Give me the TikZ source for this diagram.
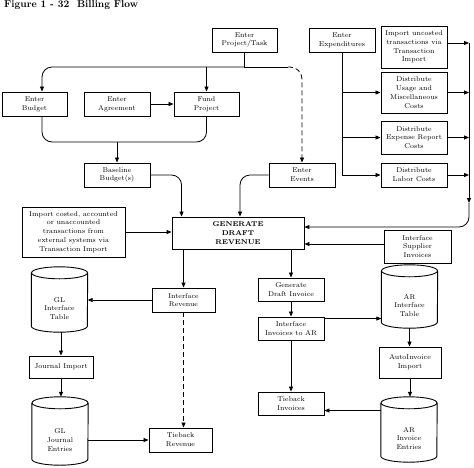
\documentclass[tikz,border=0pt]{standalone}
\usetikzlibrary{arrows.meta}
\tikzset{
    proc/.style = {draw, line width = 0.9pt, align = center, inner sep = 1pt, minimum width = 66pt, minimum height = 24pt, font = \fontsize{7}{8.8}\selectfont},
    db/.style = {inner sep = 0pt, minimum width = 56pt},
    dbtext/.style = {align = center, inner sep = 0pt, font = \fontsize{7}{8.8}\selectfont},
    link/.style = {line width = 0.8pt},
    flow/.style = {link, -{Triangle[length = 5pt, width = 4pt]}},
    dashflow/.style = {flow, dash pattern = on 5pt off 3pt},
}
% cylinder round a db node
\newcommand{\dbdraw}[1]{
    \draw[line width = 0.9pt] ([yshift = -6pt]#1.north west) -- ([yshift = 6pt]#1.south west) arc[start angle = 180, end angle = 360, x radius = 28pt, y radius = 6pt] -- ([yshift = -6pt]#1.north east);
    \draw[line width = 0.9pt] ([yshift = -6pt]#1.north) ellipse[x radius = 28pt, y radius = 6pt];
}
\begin{document}
\begin{tikzpicture}[x = 1pt, y = -1pt]
            \useasboundingbox (0, 0) rectangle (474, 467);
            \node[anchor = west, inner sep = 0pt, font = \bfseries\fontsize{10}{11}\selectfont] (title) at (4, 5.5) {Figure 1 - 32\ \ Billing Flow};
            % top row
            \node[proc, minimum width = 65pt] (proj) at (244.5, 40) {Enter\\Project/Task};
            \node[proc] (exp) at (342, 40) {Enter\\Expenditures};
            \node[proc, minimum width = 65pt] (budget) at (34.5, 104) {Enter\\Budget};
            \node[proc] (agree) at (117, 104) {Enter\\Agreement};
            \node[proc, minimum width = 65pt] (fund) at (206.5, 104) {Fund\\Project};
            \node[proc] (baseline) at (117, 175) {Baseline\\Budget(s)};
            \node[proc] (events) at (302, 175) {Enter\\Events};
            % right column
            \node[proc, minimum height = 42pt] (uncosted) at (414, 47) {Import uncosted\\transactions via\\Transaction\\Import};
            \node[proc, minimum height = 41pt] (usage) at (414, 92.5) {Distribute\\Usage and\\Miscellaneous\\Costs};
            \node[proc, minimum height = 33pt] (expense) at (414, 137.5) {Distribute\\Expense Report\\Costs};
            \node[proc] (labor) at (414, 175) {Distribute\\Labor Costs};
            % middle
            \node[proc, minimum width = 132pt, minimum height = 32pt, font = \bfseries\fontsize{7}{8.8}\selectfont] (gdr) at (238, 233) {GENERATE\\DRAFT\\REVENUE};
            \node[proc, minimum width = 103pt, minimum height = 50pt] (costed) at (73.5, 232) {Import costed, accounted\\or unaccounted\\transactions from\\external systems via\\Transaction Import};
            \node[proc, minimum width = 67pt, minimum height = 33pt] (supplier) at (417.5, 246.5) {Interface\\Supplier\\Invoices};
            % revenue side
            \node[proc, minimum width = 63pt] (irev) at (183.5, 300) {Interface\\Revenue};
            \node[db, minimum height = 65pt] (glit) at (59.5, 299.5) {};
            \node[dbtext] (glitlab) at ([yshift = -9pt]glit.center) {GL\\Interface\\Table};
            \node[proc, minimum width = 64pt, minimum height = 22pt] (jimp) at (61, 367) {Journal Import};
            \node[db, minimum height = 68pt] (glje) at (60, 431) {};
            \node[dbtext] (gljelab) at ([yshift = -9pt]glje.center) {GL\\Journal\\Entries};
            \node[proc, minimum width = 63pt] (tbrev) at (180.5, 440) {Tieback\\Revenue};
            % invoice side
            \node[proc, minimum height = 23pt] (gdi) at (291, 289.5) {Generate\\Draft Invoice};
            \node[proc, minimum height = 23pt] (iinv) at (291, 328.5) {Interface\\Invoices to AR};
            \node[proc, minimum height = 23pt] (tbinv) at (291, 403.5) {Tieback\\Invoices};
            \node[db, minimum height = 63pt] (arit) at (409.5, 296.5) {};
            \node[dbtext] (aritlab) at ([yshift = -9pt]arit.center) {AR\\Interface\\Table};
            \node[proc, minimum width = 62pt, minimum height = 31pt] (auto) at (410, 362.5) {AutoInvoice\\Import};
            \node[db, minimum height = 65pt] (arie) at (409, 429.5) {};
            \node[dbtext] (arielab) at ([yshift = -9pt]arie.center) {AR\\Invoice\\Entries};
            \foreach \d in {glit, glje, arit, arie}{
                \dbdraw{\d}
            }
            % project task split
            \coordinate (split) at (244.5, 67);
            \coordinate (dashstart) at (288, 67);
            \draw[link] (proj.south) -- (split) -- (dashstart);
            \draw[flow, rounded corners = 10pt] (split) -| ([xshift = 7.5pt]budget.north);
            \draw[flow] (fund.north |- split) -- (fund.north);
            \draw[dashflow, rounded corners = 12pt] (dashstart) -| (events.north);
            \draw[flow] (agree) -- (fund);
            % budgets merge into baseline
            \coordinate (merge) at (117, 142);
            \draw[link, rounded corners = 10pt] ([xshift = 7.5pt]budget.south) |- (merge) -| (fund.south);
            \draw[flow] (merge) -- (baseline.north);
            \draw[flow, rounded corners = 10pt] (baseline.east) -| ([xshift = 10pt]gdr.north west);
            \draw[flow, rounded corners = 10pt] (events.west) -| ([xshift = 2pt]gdr.north);
            % expenditures
            \draw[flow] (exp.south) |- (labor.west);
            \foreach \b in {usage, expense}{
                \draw[flow] (exp.south |- \b.west) -- (\b.west);
            }
            \coordinate (bustop) at (469, 43);
            \coordinate (busarrow) at (469, 203);
            \coordinate (gdrin) at ([yshift = 6pt]gdr.east);
            \draw[flow] ([yshift = 4pt]uncosted.east) -- (bustop);
            \foreach \b in {usage, expense, labor}{
                \draw[flow] (\b.east) -- (bustop |- \b.east);
            }
            \draw[flow] (bustop) -- (busarrow);
            \draw[flow, rounded corners = 10pt] (busarrow) |- (gdrin);
            \coordinate (supout) at ([yshift = 2.5pt]supplier.west);
            \draw[flow] (supout) -- (supout -| gdr.east);
            \draw[flow] (costed.east) -- (costed.east -| gdr.west);
            % out of generate draft revenue
            \draw[flow] (gdr.south -| irev.north) -- (irev.north);
            \draw[flow] (gdr.south -| gdi.north) -- (gdi.north);
            \draw[flow] (irev.west) -- (irev.west -| glit.east);
            \draw[dashflow] (irev.south) -- (irev.south |- tbrev.north);
            \draw[flow] (jimp.north |- glit.south) -- (jimp.north);
            \draw[flow] (jimp.south) -- (jimp.south |- glje.north);
            \draw[flow] (glje.east |- tbrev.west) -- (tbrev.west);
            \draw[flow] (gdi) -- (iinv);
            \draw[flow] (iinv) -- (tbinv);
            \coordinate (iinvout) at ([yshift = -2pt]iinv.north east);
            \draw[flow] (iinvout) -- (iinvout -| arit.west);
            \draw[flow] (arit.south) -- (arit.south |- auto.north);
            \draw[flow] (auto.south) -- (auto.south |- arie.north);
            \coordinate (tbinvin) at ([yshift = -7pt]tbinv.east);
            \draw[flow] (tbinvin -| arie.west) -- (tbinvin);
        \end{tikzpicture}
\end{document}
